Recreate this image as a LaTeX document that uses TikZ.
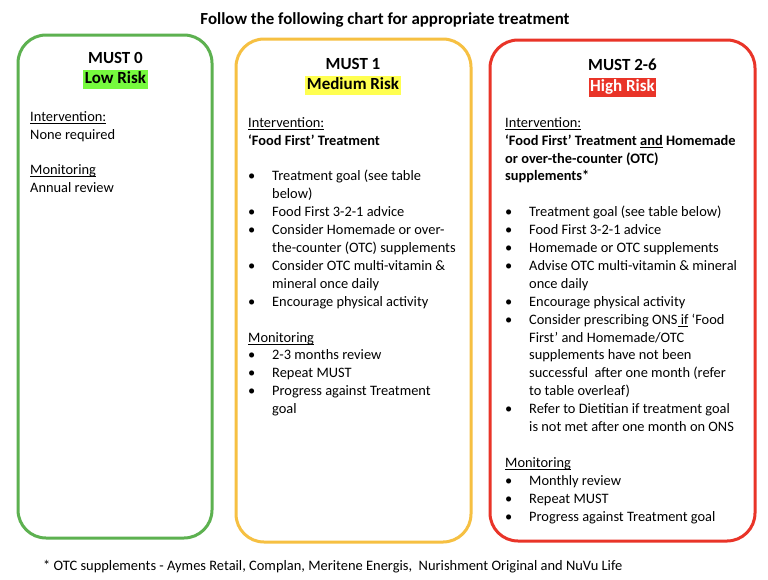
\documentclass[tikz,border=0pt]{standalone}
\usepackage{fontspec}
\setmainfont{Carlito}
\definecolor{gbox}{RGB}{93,177,80}
\definecolor{ybox}{RGB}{246,192,66}
\definecolor{rbox}{RGB}{233,52,40}
\definecolor{glow}{RGB}{118,250,62}
\definecolor{ymed}{RGB}{255,255,80}
\newcommand{\myul}[1]{\setbox0\hbox{#1}\rlap{\rule[-2.3pt]{\wd0}{0.8pt}}\box0\relax}
\newcommand{\bi}{\makebox[24pt][l]{\textbullet}}
\newcommand{\ci}{\hspace*{24pt}}
\newcommand{\topstrut}{\rule{0pt}{12pt}}
\tikzset{
  riskbox/.style={line width=3pt, rounded corners=28pt},
  bodytext/.style={anchor=north west, inner sep=0pt, align=left, font=\fontsize{14.4}{17.9}\selectfont},
  heading/.style={anchor=base, inner sep=0pt, font=\bfseries\fontsize{17}{20}\selectfont},
  risklabel/.style={anchor=base, inner xsep=1.5pt, inner ysep=0pt, text height=13pt, text depth=6pt, font=\bfseries\fontsize{17}{20}\selectfont},
}
\begin{document}
\begin{tikzpicture}[x=1pt,y=-1pt]
\useasboundingbox (0,0) rectangle (768,579);
\fill[white] (0,0) rectangle (768,579);

\node[anchor=base, inner sep=0pt, font=\bfseries\fontsize{16.9}{20}\selectfont] (title) at (385,24) {Follow the following chart for appropriate treatment};

% boxes
\draw[riskbox, gbox] (18,35) rectangle (212,538);
\draw[riskbox, ybox] (236,39) rectangle (471,542);
\draw[riskbox, rbox] (490,40) rectangle (755,541);

% headings
\node[heading] (h0) at (115.5,63) {MUST 0};
\node[risklabel, fill=glow] (r0) at (115.5,83) {Low Risk};
\node[heading] (h1) at (353,69) {MUST 1};
\node[risklabel, fill=ymed] (r1) at (353,89) {Medium Risk};
\node[heading] (h2) at (622.5,70) {MUST 2-6};
\node[risklabel, fill=rbox, text=white] (r2) at (622.5,91) {High Risk};

% green body
\node[bodytext] (g) at (30,121-12) {\topstrut\myul{Intervention:}\\
None required\\[17.9pt]
\myul{Monitoring}\\
Annual review};

% yellow body
\node[bodytext] (y) at (248,127-12) {\topstrut\myul{Intervention:}\\
\textbf{‘Food First’ Treatment}\\[17.9pt]
\bi Treatment goal (see table\\
\ci below)\\
\bi Food First 3-2-1 advice\\
\bi Consider Homemade or over-\\
\ci the-counter (OTC) supplements\\
\bi Consider OTC multi-vitamin \&\\
\ci mineral once daily\\
\bi Encourage physical activity\\[17.9pt]
\myul{Monitoring}\\
\bi 2-3 months review\\
\bi Repeat MUST\\
\bi Progress against Treatment\\
\ci goal};

% red body
\node[bodytext] (r) at (505,127-12) {\topstrut\myul{Intervention:}\\
\textbf{‘Food First’ Treatment \myul{and} Homemade}\\
\textbf{or over-the-counter (OTC)}\\
\textbf{supplements*}\\[17.9pt]
\bi Treatment goal (see table below)\\
\bi Food First 3-2-1 advice\\
\bi Homemade or OTC supplements\\
\bi Advise OTC multi-vitamin \& mineral\\
\ci once daily\\
\bi Encourage physical activity\\
\bi Consider prescribing ONS\myul{ if} ‘Food\\
\ci First’ and Homemade/OTC\\
\ci supplements have not been\\
\ci successful\ \ after one month (refer\\
\ci to table overleaf)\\
\bi Refer to Dietitian if treatment goal\\
\ci is not met after one month on ONS\\[17.9pt]
\myul{Monitoring}\\
\bi Monthly review\\
\bi Repeat MUST\\
\bi Progress against Treatment goal};

% footer
\node[anchor=base west, inner sep=0pt, font=\fontsize{14.45}{17.9}\selectfont] (foot) at (43,570) {* OTC supplements - Aymes Retail, Complan, Meritene Energis,\ \ Nurishment Original and NuVu Life};
\end{tikzpicture}
\end{document}
